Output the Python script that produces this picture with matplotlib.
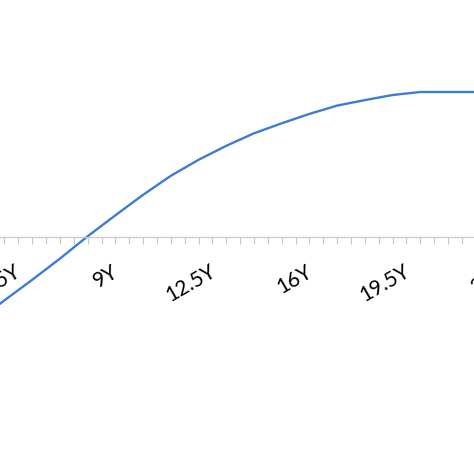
import matplotlib.pyplot as plt
import numpy as np

# curve (tenor in years, value)
tenors = [4, 5, 6, 7, 8, 9, 10, 11, 12, 13, 14, 15, 16, 17, 18, 19, 20, 21, 22, 23]
values = [-0.84, -0.63, -0.425, -0.213, 0.01, 0.22, 0.425, 0.615, 0.775, 0.915,
          1.04, 1.14, 1.234, 1.317, 1.372, 1.423, 1.453, 1.453, 1.453, 1.453]

label_years = [5.5, 9, 12.5, 16, 19.5, 23]
label_texts = ["5.5Y", "9Y", "12.5Y", "16Y", "19.5Y", "23Y"]

fig = plt.figure(figsize=(4.74, 4.74), dpi=100)
ax = fig.add_axes([0, 0, 1, 1])

ax.plot(tenors, values, color="#3d7bd6", lw=1.7)

# the category axis sits at zero
for s in ["top", "right", "left"]:
    ax.spines[s].set_visible(False)
ax.spines["bottom"].set_position(("data", 0))
ax.spines["bottom"].set_color("#c8c8c8")
ax.spines["bottom"].set_linewidth(0.9)

ax.set_xticks(np.arange(4, 23, 0.5))
ax.set_xticklabels([])
ax.tick_params(axis="x", direction="out", length=5, width=0.8, color="#c8c8c8")
ax.set_yticks([])

# limits after the ticks, set_xticks would widen them
ax.set_xlim(4.838, 21.937)
ax.set_ylim(-2.367, 2.373)

# rotated labels, drawn by hand so the last one can run off the edge
for yr, txt in zip(label_years, label_texts):
    ax.annotate(txt, xy=(yr, 0), xycoords="data",
                xytext=(1, -23.5), textcoords="offset points",
                rotation=30, rotation_mode="anchor", ha="right", va="center",
                fontsize=15, family="Lato", color="black", annotation_clip=False)

plt.savefig("out.png", dpi=100)
